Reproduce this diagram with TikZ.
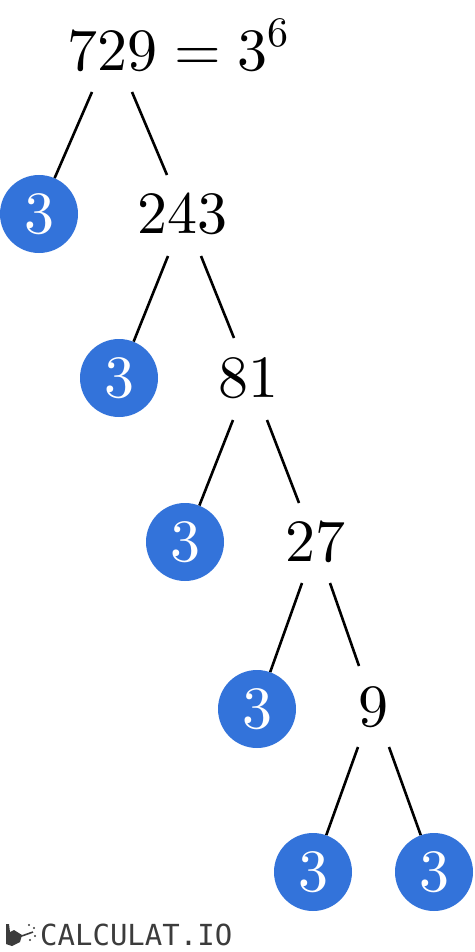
\documentclass[tikz,border=0pt]{standalone}
\usepackage{fontspec}
\newfontfamily\logofont{DejaVu Sans Mono}
\newfontfamily\numfont{lmroman10-regular.otf}
\definecolor{leafblue}{RGB}{51,115,218}
\definecolor{logogray}{RGB}{60,60,60}
\begin{document}
\begin{tikzpicture}[x=1pt,y=-1pt,
  num/.style={inner sep=0pt,font=\numfont\fontsize{60}{62}\selectfont},
  leaf/.style={circle,fill=leafblue,minimum size=78pt,inner sep=0pt,text=white,font=\numfont\fontsize{60}{62}\selectfont},
  edge/.style={line width=2.6pt,black}]
\useasboundingbox (0,0) rectangle (474,952);
% nodes
\node[num,anchor=base] (n729) at (178,71) {729\hspace{0.278em}=\hspace{0.278em}3\raisebox{0.41em}{\fontsize{42}{43}\selectfont 6}};
\node[num] (n243) at (182,214) {243};
\node[num] (n81) at (248,378) {81};
\node[num] (n27) at (315,542) {27};
\node[num] (n9) at (373,707) {9};
\node[leaf] (c1) at (39,214) {3};
\node[leaf] (c2) at (119,378) {3};
\node[leaf] (c3) at (185,542) {3};
\node[leaf] (c4) at (257,709) {3};
\node[leaf] (c5) at (313,872) {3};
\node[leaf] (c6) at (434,872) {3};
% connector ends
\coordinate (a1l) at (92,92);   \coordinate (a1r) at (132,92);  \coordinate (b1r) at (167,175);
\coordinate (a2l) at (168,256); \coordinate (a2r) at (201,256); \coordinate (b2r) at (234,338);
\coordinate (a3l) at (233,420); \coordinate (a3r) at (267,420); \coordinate (b3r) at (299,503);
\coordinate (a4l) at (302,583); \coordinate (a4r) at (330,583); \coordinate (b4r) at (359,666);
\coordinate (a5l) at (358,747); \coordinate (a5r) at (389,747);
% connectors
\draw[edge] (a1l) -- (c1);
\draw[edge] (a1r) -- (b1r);
\draw[edge] (a2l) -- (c2);
\draw[edge] (a2r) -- (b2r);
\draw[edge] (a3l) -- (c3);
\draw[edge] (a3r) -- (b3r);
\draw[edge] (a4l) -- (c4);
\draw[edge] (a4r) -- (b4r);
\draw[edge] (a5l) -- (c5);
\draw[edge] (a5r) -- (c6);
% logo
\fill[logogray] (6,924) -- (9,924) -- (10,932) -- (14,930) -- (22,935) -- (20,942) -- (12,946) -- (6,944) -- cycle;
\draw[logogray,line width=1.6pt] (16,938) -- (33,932);
\fill[logogray] (29,925) circle (1.2) (34,928) circle (1.2) (30,940) circle (1.2) (35,936) circle (1.2);
\node[anchor=west,inner sep=0pt,text=logogray,font=\logofont\fontsize{29}{30}\selectfont] (logo) at (40,935) {CALCULAT.IO};
\end{tikzpicture}
\end{document}
